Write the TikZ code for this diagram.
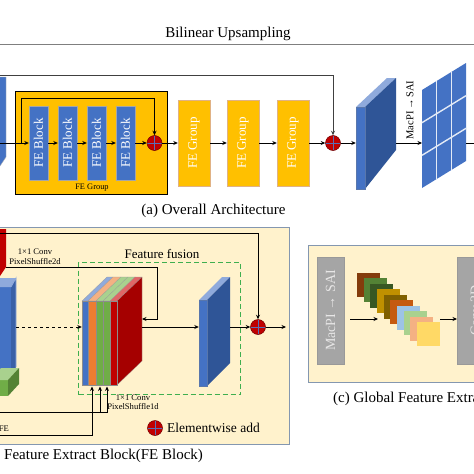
\documentclass[tikz,border=0pt]{standalone}
\usepackage{fontspec}
\usepackage{graphicx}
\setmainfont{Liberation Serif}
\usetikzlibrary{arrows.meta,calc,shapes.geometric}
\definecolor{feblue}{HTML}{4472C4}
\definecolor{feblueD}{HTML}{2F5597}
\definecolor{feblueL}{HTML}{8FAADC}
\definecolor{feyellow}{HTML}{FFC000}
\definecolor{addred}{HTML}{C00000}
\definecolor{redD}{HTML}{A50000}
\definecolor{redL}{HTML}{E06666}
\definecolor{beige}{HTML}{FFF2CC}
\definecolor{panelborder}{HTML}{8497B0}
\definecolor{fgreen}{HTML}{70AD47}
\definecolor{fgreenL}{HTML}{A9D18E}
\definecolor{fgreenD}{HTML}{548235}
\definecolor{forange}{HTML}{ED7D31}
\definecolor{forangeL}{HTML}{F4B183}
\definecolor{dashgreen}{HTML}{3FAF4F}
\definecolor{grayfill}{HTML}{A5A5A5}
\definecolor{graytext}{HTML}{E7E6E6}
\definecolor{linegray}{HTML}{7F7F7F}
\definecolor{crossblue}{HTML}{5B6FB5}
\definecolor{sqA}{HTML}{843C0C}
\definecolor{sqB}{HTML}{548235}
\definecolor{sqC}{HTML}{385723}
\definecolor{sqD}{HTML}{BF9000}
\definecolor{sqE}{HTML}{7F6000}
\definecolor{sqF}{HTML}{C55A11}
\definecolor{sqG}{HTML}{9DC3E6}
\definecolor{sqH}{HTML}{A9D18E}
\definecolor{sqI}{HTML}{F4B183}
\definecolor{sqJ}{HTML}{FFD966}
\tikzset{
  arr/.style={-{Stealth[length=4.5pt,width=4pt]}, line width=0.8pt, black},
  plainline/.style={line width=0.8pt, black},
  feblockbox/.style={rectangle, fill=feblue, draw=gray!70, line width=0.4pt, minimum width=19pt, minimum height=74pt, inner sep=0pt, text=white, font=\fontsize{13}{13}\selectfont},
  fegroupbox/.style={rectangle, fill=feyellow, draw=orange!60!gray!60, line width=0.4pt, minimum width=32pt, minimum height=86pt, inner sep=0pt, text=white, font=\fontsize{13}{13}\selectfont},
  addsym/.style={circle, fill=addred, draw=addred!60!black, line width=0.5pt, minimum size=15pt, inner sep=0pt,
    path picture={\draw[line width=0.5pt, crossblue] (path picture bounding box.north) -- (path picture bounding box.south) (path picture bounding box.west) -- (path picture bounding box.east);}},
  panelbox/.style={rectangle, fill=beige, draw=panelborder, line width=1pt, inner sep=0pt, anchor=north west},
  graybox/.style={rectangle, fill=grayfill, draw=gray!80, line width=0.4pt, inner sep=0pt, minimum width=27pt, minimum height=107pt, text=graytext, font=\fontsize{14}{14}\selectfont},
  captxt/.style={font=\fontsize{15}{15}\selectfont, inner sep=0pt},
  smalltxt/.style={font=\fontsize{8.6}{9.6}\selectfont, inner sep=0pt, align=center}
}
\begin{document}
\begin{tikzpicture}[x=1pt,y=-1pt]
\useasboundingbox (0,0) rectangle (474,474);
\fill[white] (0,0) rectangle (474,474);

% ================= (a) Overall architecture =================
\node[captxt] (bil) at (228,34) {Bilinear Upsampling};
\coordinate (bl0) at (-2,44);
\coordinate (bl1) at (476,44);
\draw[linegray, line width=0.9pt] (bl0) -- (bl1);

% left slab (cut)
\fill[feblue, draw=gray!60, line width=0.4pt] (-10,77) -- (6,77) -- (6,157) -- (0,166) -- (-10,166) -- cycle;

% FE group big box
\node[rectangle, fill=feyellow, draw=black, line width=1pt, minimum width=152pt, minimum height=103pt, inner sep=0pt] (feg) at (91,142.5) {};
\node[font=\fontsize{8.4}{8.4}\selectfont, inner sep=0pt] (feglab) at (92,188) {FE Group};

\node[feblockbox] (fb1) at (38.5,143) {\rotatebox{90}{FE Block}};
\node[feblockbox] (fb2) at (67.5,143) {\rotatebox{90}{FE Block}};
\node[feblockbox] (fb3) at (96.5,143) {\rotatebox{90}{FE Block}};
\node[feblockbox] (fb4) at (125.5,143) {\rotatebox{90}{FE Block}};
\node[addsym] (add1) at (154.5,143) {};

\node[fegroupbox] (fg1) at (194,143) {\rotatebox{90}{FE Group}};
\node[fegroupbox] (fg2) at (243,143) {\rotatebox{90}{FE Group}};
\node[fegroupbox] (fg3) at (293,143) {\rotatebox{90}{FE Group}};
\node[addsym] (add2) at (333,143) {};

% skip connections
\coordinate (sk0) at (-2,75);
\draw[arr, draw=black!75] (sk0) -| (add2.north);
\coordinate (in0) at (-2,143);
\coordinate (sk1) at (21,143);
\draw[arr] (in0) -- (fb1);
\draw[arr] (sk1) -- (21,98) -| (add1.north);
\draw[arr] (fb1) -- (fb2);
\draw[arr] (fb2) -- (fb3);
\draw[arr] (fb3) -- (fb4);
\draw[arr] (fb4) -- (add1);
\draw[arr] (add1) -- (fg1);
\draw[arr] (fg1) -- (fg2);
\draw[arr] (fg2) -- (fg3);
\draw[arr] (fg3) -- (add2);

% 3D slab
\coordinate (s1a) at (356,107);
\coordinate (s1b) at (365,107);
\coordinate (s1c) at (365,189);
\coordinate (s1d) at (356,189);
\fill[feblueL] (s1a) -- (s1b) -- (396,78) -- (387,78) -- cycle;
\fill[feblueD] (s1b) -- (396,78) -- (396,150) -- (s1c) -- cycle;
\fill[feblue, draw=feblueD!80, line width=0.3pt] (s1a) rectangle (s1c);
\node[inner sep=0pt, minimum width=9pt, minimum height=82pt] (slab1) at (360.5,148) {};
\coordinate (slab1r) at (396,143);
\draw[arr] (add2) -- (slab1.west |- add2);

\node[font=\fontsize{10.5}{10.5}\selectfont, inner sep=0pt] (mp1) at (410,110) {\rotatebox{90}{MacPI\,\textbf{→}\,SAI}};

% grid
\coordinate (gTL) at (422,90);
\coordinate (gTR) at (466,63);
\coordinate (gBR) at (466,161);
\coordinate (gBL) at (422,188);
\fill[feblue] (gTL) -- (gTR) -- (gBR) -- (gBL) -- cycle;
\foreach \f in {1/3,2/3}{
  \draw[white!85!feblue, line width=1.4pt] ($(gTL)!\f!(gTR)$) -- ($(gBL)!\f!(gBR)$);
  \draw[white!85!feblue, line width=1.4pt] ($(gTL)!\f!(gBL)$) -- ($(gTR)!\f!(gBR)$);
}
\coordinate (gridin) at (422,143);
\draw[arr] (slab1r) -- (gridin);
\coordinate (gridout) at (466,143);
\coordinate (gridend) at (476,143);
\draw[plainline] (gridout) -- (gridend);

\node[captxt] (capa) at (213.5,211) {(a) Overall Architecture};

% ================= (b) FE Block =================
\node[panelbox, minimum width=292pt, minimum height=217pt] (pb) at (-3,227) {};

% red slab top-left
\fill[addred] (-10,229) -- (6,229) -- (6,267) -- (0,276) -- (-10,276) -- cycle;
% blue slab left
\fill[feblue] (-10,287) rectangle (11,376);
\fill[feblueL] (-10,287) -- (11,287) -- (16,278) -- (-5,278) -- cycle;
\fill[feblue!85!black] (11,287) -- (16,278) -- (16,367) -- (11,376) -- cycle;
\draw[feblueL, line width=0.8pt] (11,287) -- (16,278) -- (16,367);
\coordinate (bslabr) at (16,327);
% green slab bottom-left
\fill[fgreen] (-10,380) rectangle (8,396);
\fill[fgreenL] (-10,380) -- (8,380) -- (19,368) -- (1,368) -- cycle;
\fill[fgreenD] (8,380) -- (19,368) -- (19,384) -- (8,396) -- cycle;

% top skip line
\node[addsym] (add3) at (258,327) {};
\coordinate (tb0) at (-2,233);
\draw[arr] (tb0) -| (add3.north);

% feature fusion box
\node[rectangle, draw=dashgreen, dash pattern=on 5pt off 3pt, line width=1.1pt, minimum width=162pt, minimum height=132pt, inner sep=0pt, anchor=north west] (ffbox) at (78,262) {};
\node[font=\fontsize{13}{13}\selectfont, inner sep=0pt] (fflab) at (162,254) {Feature fusion};

% concat block
\def\cy{301}\def\cb{385}
\foreach \a/\b/\cf/\ct in {82/88/feblue/feblueL, 88/96/forange/forangeL, 96/103/fgreen/fgreenL, 103/110/fgreen/fgreenL, 110/117/addred/redL}{
  \fill[\ct, draw=black!40, line width=0.2pt] (\a,\cy) -- (\b,\cy) -- (\b+25,\cy-24) -- (\a+25,\cy-24) -- cycle;
}
\fill[redD, draw=black!40, line width=0.2pt] (117,\cy) -- (142,277) -- (142,361) -- (117,\cb) -- cycle;
\foreach \a/\b/\cf in {82/88/feblue, 88/96/forange, 96/103/fgreen, 103/110/fgreen, 110/117/addred}{
  \fill[\cf, draw=black!45, line width=0.3pt] (\a,\cy) rectangle (\b,\cb);
}
\node[inner sep=0pt, minimum width=35pt, minimum height=84pt] (cat) at (99.5,343) {};
\coordinate (catr) at (142,327);
\coordinate (catr2) at (142,319);

\draw[arr, dashed] (bslabr) -- (cat.west |- bslabr);

% PixelShuffle2d path
\node[smalltxt] (t2a) at (35,252) {1×1 Conv};
\node[smalltxt] (t2b) at (35,262) {PixelShuffle2d};
\coordinate (ps2a) at (6,267);
\draw[arr] (ps2a) -- (157,267) |- (catr2);

% slab 2
\fill[feblueL] (199,300) -- (207,300) -- (230,277) -- (222,277) -- cycle;
\fill[feblueD] (207,300) -- (230,277) -- (230,363) -- (207,386) -- cycle;
\fill[feblue, draw=feblueD!80, line width=0.3pt] (199,300) rectangle (207,386);
\node[inner sep=0pt, minimum width=8pt, minimum height=86pt] (slab2) at (203,343) {};
\coordinate (slab2r) at (230,327);
\draw[arr] (catr) -- (slab2.west |- catr);
\draw[arr] (slab2r) -- (add3);
\coordinate (outb) at (286,327);
\draw[arr] (add3) -- (outb);

% bottom inputs
\node[smalltxt] (t1a) at (133,398) {1×1 Conv};
\node[smalltxt] (t1b) at (133,406.5) {PixelShuffle1d};
\coordinate (ps1a) at (-2,412);
\draw[arr] (ps1a) -- (107,412) -- (107,386.5);
\coordinate (ps1b) at (100,412);
\draw[arr] (ps1b) -- (100,386.5);
\coordinate (gfe) at (-2,435);
\draw[arr] (gfe) -- (92,435) -- (92,386.5);
\node[font=\fontsize{8.6}{8.6}\selectfont, inner sep=0pt, anchor=east] (gfelab) at (9,429) {GFE};

% legend
\node[addsym] (addleg) at (155,428) {};
\node[font=\fontsize{13.5}{13.5}\selectfont, inner sep=0pt, anchor=west] (leg) at (167,428) {Elementwise add};

\node[captxt, anchor=west] (capb) at (4,456) {Feature Extract Block(FE Block)};

% ================= (c) Global feature extraction =================
\node[panelbox, minimum width=180pt, minimum height=137pt] (pc) at (308,245) {};
\node[graybox] (mp2) at (330.5,310.5) {\rotatebox{90}{MacPI → SAI}};
\node[graybox, minimum width=36pt, anchor=west] (conv) at (457,310.5) {\rotatebox{90}{Conv 3D}};
\foreach \c [count=\i from 0] in {sqA,sqB,sqC,sqD,sqE,sqF,sqG,sqH,sqI,sqJ}{
  \fill[\c] (357+6.67*\i,273+5.44*\i) rectangle ++(23,24);
}
\node[inner sep=0pt, minimum width=83pt, minimum height=73pt] (stack) at (398.5,309.5) {};
\coordinate (c1a) at (350,319);
\coordinate (c1b) at (378,319);
\draw[arr] (c1a) -- (c1b);
\coordinate (c2a) at (440,319);
\draw[arr] (c2a) -- (conv.west |- c2a);

\node[captxt, anchor=west] (capc) at (333,399) {(c) Global Feature Extraction};
\end{tikzpicture}
\end{document}
